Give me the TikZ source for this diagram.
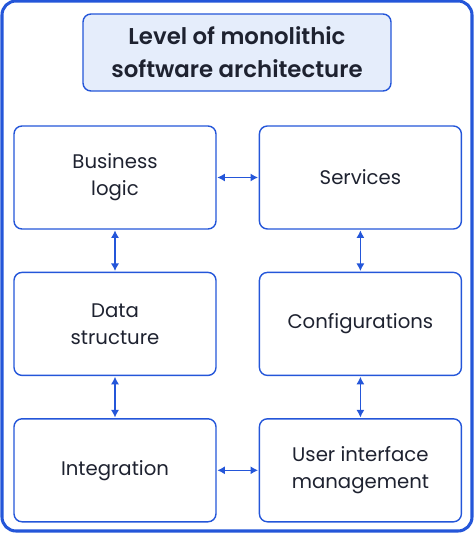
\documentclass[tikz,border=0pt]{standalone}
\usepackage{fontspec}
\setmainfont{Poppins}
\newfontfamily\titlefont{Poppins SemiBold}
\usetikzlibrary{arrows.meta,positioning}
\definecolor{frameblue}{HTML}{2456D9}
\definecolor{titlefill}{HTML}{E5EDFB}
\definecolor{inkdark}{HTML}{1E2230}

\begin{document}
\begin{tikzpicture}[
  blk/.style={draw=frameblue, line width=1.2pt, rounded corners=0.24cm,
    minimum width=6.06cm, minimum height=3.09cm, align=center,
    text=inkdark, font=\fontsize{16.8}{23}\selectfont},
  link/.style={frameblue, line width=1.3pt, <->, >={Latex[length=6.5pt,width=7pt]},
    shorten >=0.5pt, shorten <=0.5pt},
  node distance=1.26cm]
  \useasboundingbox (0,0) rectangle (14.22,15.99);
    \draw[frameblue, line width=2.6pt, rounded corners=0.42cm] (0.06,0.06) rectangle (14.16,15.96);
    \node[blk, fill=titlefill, minimum width=9.24cm, minimum height=2.31cm,
      font=\fontsize{19.5}{28}\titlefont] (title) at (7.11,14.415) {Level of monolithic\\software architecture};
    \node[blk] (logic) at (3.45,10.665) {Business\\logic};
    \node[blk, right=of logic] (serv) {Services};
    \node[blk, below=of logic] (data) {Data\\structure};
    \node[blk, below=of serv] (conf) {Configurations};
    \node[blk, below=of data] (integ) {Integration};
    \node[blk, below=of conf] (ui) {User interface\\management};
    \draw[link] (logic) -- (serv);
    \draw[link] (logic) -- (data);
    \draw[link] (serv) -- (conf);
    \draw[link] (data) -- (integ);
    \draw[link] (conf) -- (ui);
    \draw[link] (integ) -- (ui);
\end{tikzpicture}
\end{document}
